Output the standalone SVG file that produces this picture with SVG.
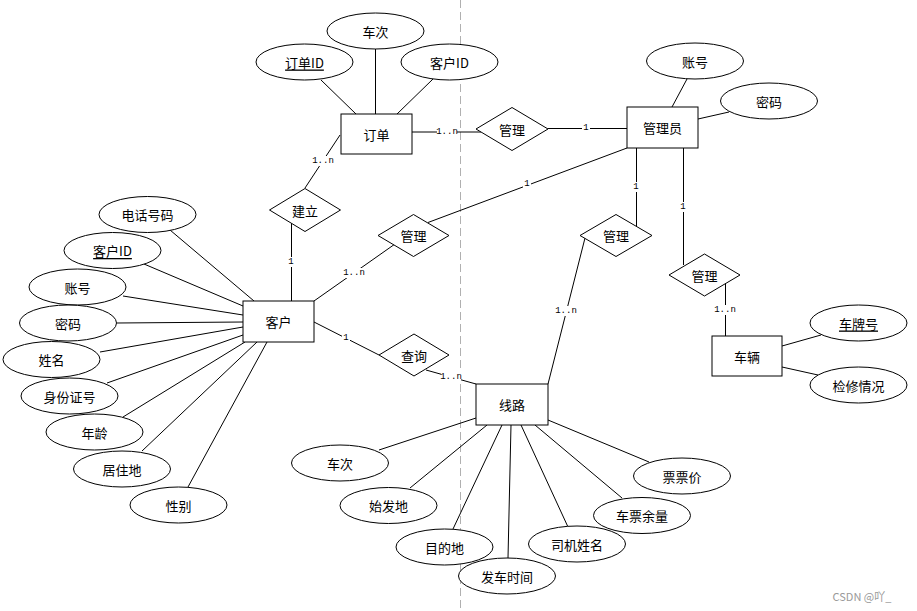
<svg xmlns="http://www.w3.org/2000/svg" width="917" height="611" viewBox="0 0 917 611">
<style>
.s{fill:#fff;stroke:#000;stroke-width:1}
.t{font-family:"Noto Sans CJK SC","Noto Sans",sans-serif;font-size:13px;fill:#000;text-anchor:middle;dominant-baseline:central}
.u{text-decoration:underline}
.c line{stroke:#000;stroke-width:1}
.lb rect{fill:#fff}
.lb text{font-family:"Liberation Mono",monospace;font-size:9px;fill:#000;text-anchor:middle;dominant-baseline:central}
</style>
<rect width="917" height="611" fill="#fff"/>
<line x1="460.5" y1="0" x2="460.5" y2="611" stroke="#b0b0b0" stroke-width="1" stroke-dasharray="8,4"/>
<g id="connectors" class="c">
<line x1="321" y1="80" x2="356" y2="114"/>
<line x1="375.5" y1="49" x2="375.5" y2="114"/>
<line x1="433" y1="79" x2="397" y2="114"/>
<line x1="412" y1="132" x2="481" y2="132"/>
<line x1="548" y1="128.5" x2="627" y2="128.5"/>
<line x1="687" y1="79" x2="672" y2="107"/>
<line x1="698" y1="119" x2="729" y2="112"/>
<line x1="627" y1="148" x2="428" y2="222.5"/>
<line x1="636.5" y1="148" x2="636.5" y2="226"/>
<line x1="683.5" y1="148" x2="683.5" y2="265"/>
<line x1="725.5" y1="283" x2="725.5" y2="336"/>
<line x1="782" y1="346" x2="821" y2="335"/>
<line x1="782" y1="367" x2="818" y2="375"/>
<line x1="585" y1="238" x2="548" y2="384"/>
<line x1="340" y1="135" x2="305" y2="188"/>
<line x1="291.5" y1="223" x2="291.5" y2="301"/>
<line x1="314" y1="301" x2="395" y2="244"/>
<line x1="314" y1="322" x2="379" y2="355"/>
<line x1="426" y1="370" x2="476" y2="384"/>
<line x1="170" y1="230" x2="254" y2="301"/>
<line x1="144" y1="264" x2="243" y2="306"/>
<line x1="123" y1="296" x2="243" y2="315"/>
<line x1="117" y1="323" x2="243" y2="322"/>
<line x1="100" y1="352" x2="243" y2="327"/>
<line x1="107" y1="383" x2="243" y2="335"/>
<line x1="123" y1="417" x2="245" y2="342"/>
<line x1="142" y1="451" x2="257" y2="342"/>
<line x1="188" y1="487" x2="267" y2="342"/>
<line x1="476" y1="418" x2="379" y2="450"/>
<line x1="487" y1="425" x2="410" y2="488"/>
<line x1="502" y1="425" x2="453" y2="529"/>
<line x1="511" y1="425" x2="508" y2="558"/>
<line x1="521" y1="425" x2="568" y2="527"/>
<line x1="535" y1="425" x2="622" y2="498"/>
<line x1="548" y1="420" x2="649" y2="462"/>
</g>
<g id="labels" class="lb">
<rect x="437" y="127" width="20" height="10"/><text x="447" y="132">1..n</text>
<rect x="582" y="123" width="8" height="10"/><text x="586" y="128">1</text>
<rect x="313" y="156" width="20" height="10"/><text x="323" y="161">1..n</text>
<rect x="287" y="257" width="8" height="10"/><text x="291" y="262">1</text>
<rect x="344" y="268" width="20" height="10"/><text x="354" y="273">1..n</text>
<rect x="342" y="333" width="8" height="10"/><text x="346" y="338">1</text>
<rect x="441" y="372" width="20" height="10"/><text x="451" y="377">1..n</text>
<rect x="523" y="179" width="8" height="10"/><text x="527" y="184">1</text>
<rect x="632" y="182" width="8" height="10"/><text x="636" y="187">1</text>
<rect x="679" y="202" width="8" height="10"/><text x="683" y="207">1</text>
<rect x="556" y="306" width="20" height="10"/><text x="566" y="311">1..n</text>
<rect x="715" y="305" width="20" height="10"/><text x="725" y="310">1..n</text>
</g>
<g id="order"><rect class="s" x="341" y="114" width="71" height="40"/><text class="t" x="376.5" y="134">订单</text></g>
<g id="admin"><rect class="s" x="627" y="107" width="71" height="41"/><text class="t" x="662.5" y="127.5">管理员</text></g>
<g id="customer"><rect class="s" x="243" y="301" width="71" height="41"/><text class="t" x="278.5" y="321.5">客户</text></g>
<g id="route"><rect class="s" x="476" y="384" width="72" height="41"/><text class="t" x="512" y="404.5">线路</text></g>
<g id="vehicle"><rect class="s" x="712" y="336" width="70" height="40"/><text class="t" x="747" y="356">车辆</text></g>
<g id="rel-manage-order"><polygon class="s" points="476,129 512,107.5 548,129 512,150.5"/><text class="t" x="512" y="129">管理</text></g>
<g id="rel-build"><polygon class="s" points="269.5,210 305,188.5 340.5,210 305,231.5"/><text class="t" x="305" y="210">建立</text></g>
<g id="rel-manage-customer"><polygon class="s" points="378,235.5 413.5,214.5 449,235.5 413.5,256.5"/><text class="t" x="413.5" y="235.5">管理</text></g>
<g id="rel-query"><polygon class="s" points="379,355 414,334 449,355 414,376"/><text class="t" x="414" y="355">查询</text></g>
<g id="rel-manage-route"><polygon class="s" points="580,235.5 616,214.5 652,235.5 616,256.5"/><text class="t" x="616" y="235.5">管理</text></g>
<g id="rel-manage-vehicle"><polygon class="s" points="669,275 704.5,254 740,275 704.5,296"/><text class="t" x="704.5" y="275">管理</text></g>
<g id="attr-order-id"><ellipse class="s" cx="304.5" cy="62" rx="48.5" ry="18"/><text class="t u" x="304.5" y="62">订单ID</text></g>
<g id="attr-order-train"><ellipse class="s" cx="375.5" cy="31" rx="48.5" ry="18"/><text class="t" x="375.5" y="31">车次</text></g>
<g id="attr-order-cid"><ellipse class="s" cx="449.5" cy="62" rx="48.5" ry="18"/><text class="t" x="449.5" y="62">客户ID</text></g>
<g id="attr-admin-acc"><ellipse class="s" cx="695" cy="61" rx="48.5" ry="18"/><text class="t" x="695" y="61">账号</text></g>
<g id="attr-admin-pwd"><ellipse class="s" cx="769" cy="101" rx="48.5" ry="18"/><text class="t" x="769" y="101">密码</text></g>
<g id="attr-plate"><ellipse class="s" cx="858.5" cy="323" rx="48.5" ry="18"/><text class="t u" x="858.5" y="323">车牌号</text></g>
<g id="attr-repair"><ellipse class="s" cx="858.5" cy="385" rx="48.5" ry="18"/><text class="t" x="858.5" y="385">检修情况</text></g>
<g id="attr-phone"><ellipse class="s" cx="147.5" cy="214.5" rx="48.5" ry="18"/><text class="t" x="147.5" y="214.5">电话号码</text></g>
<g id="attr-cid"><ellipse class="s" cx="112.5" cy="250.5" rx="48.5" ry="18"/><text class="t u" x="112.5" y="250.5">客户ID</text></g>
<g id="attr-acc"><ellipse class="s" cx="77.5" cy="287" rx="48.5" ry="18"/><text class="t" x="77.5" y="287">账号</text></g>
<g id="attr-pwd"><ellipse class="s" cx="68" cy="323" rx="48.5" ry="18"/><text class="t" x="68" y="323">密码</text></g>
<g id="attr-name"><ellipse class="s" cx="51.5" cy="359.5" rx="48.5" ry="18"/><text class="t" x="51.5" y="359.5">姓名</text></g>
<g id="attr-idcard"><ellipse class="s" cx="69.5" cy="396" rx="48.5" ry="18"/><text class="t" x="69.5" y="396">身份证号</text></g>
<g id="attr-age"><ellipse class="s" cx="94.5" cy="432" rx="48.5" ry="18"/><text class="t" x="94.5" y="432">年龄</text></g>
<g id="attr-home"><ellipse class="s" cx="122" cy="469" rx="48.5" ry="18"/><text class="t" x="122" y="469">居住地</text></g>
<g id="attr-sex"><ellipse class="s" cx="178.5" cy="505" rx="48.5" ry="18"/><text class="t" x="178.5" y="505">性别</text></g>
<g id="attr-train"><ellipse class="s" cx="340" cy="463" rx="48.5" ry="18"/><text class="t" x="340" y="463">车次</text></g>
<g id="attr-start"><ellipse class="s" cx="388.5" cy="505.5" rx="48.5" ry="18"/><text class="t" x="388.5" y="505.5">始发地</text></g>
<g id="attr-dest"><ellipse class="s" cx="444.5" cy="547" rx="48.5" ry="18"/><text class="t" x="444.5" y="547">目的地</text></g>
<g id="attr-depart"><ellipse class="s" cx="507" cy="576" rx="48.5" ry="18"/><text class="t" x="507" y="576">发车时间</text></g>
<g id="attr-driver"><ellipse class="s" cx="577" cy="544" rx="48.5" ry="18"/><text class="t" x="577" y="544">司机姓名</text></g>
<g id="attr-remain"><ellipse class="s" cx="642" cy="515.5" rx="48.5" ry="18"/><text class="t" x="642" y="515.5">车票余量</text></g>
<g id="attr-price"><ellipse class="s" cx="682" cy="476" rx="48.5" ry="18"/><text class="t" x="682" y="476">票票价</text></g>
<text x="862" y="596" font-family="'Noto Sans CJK SC','Liberation Sans',sans-serif" font-size="11" fill="#999" text-anchor="middle" dominant-baseline="central">CSDN @吖_</text>
</svg>
